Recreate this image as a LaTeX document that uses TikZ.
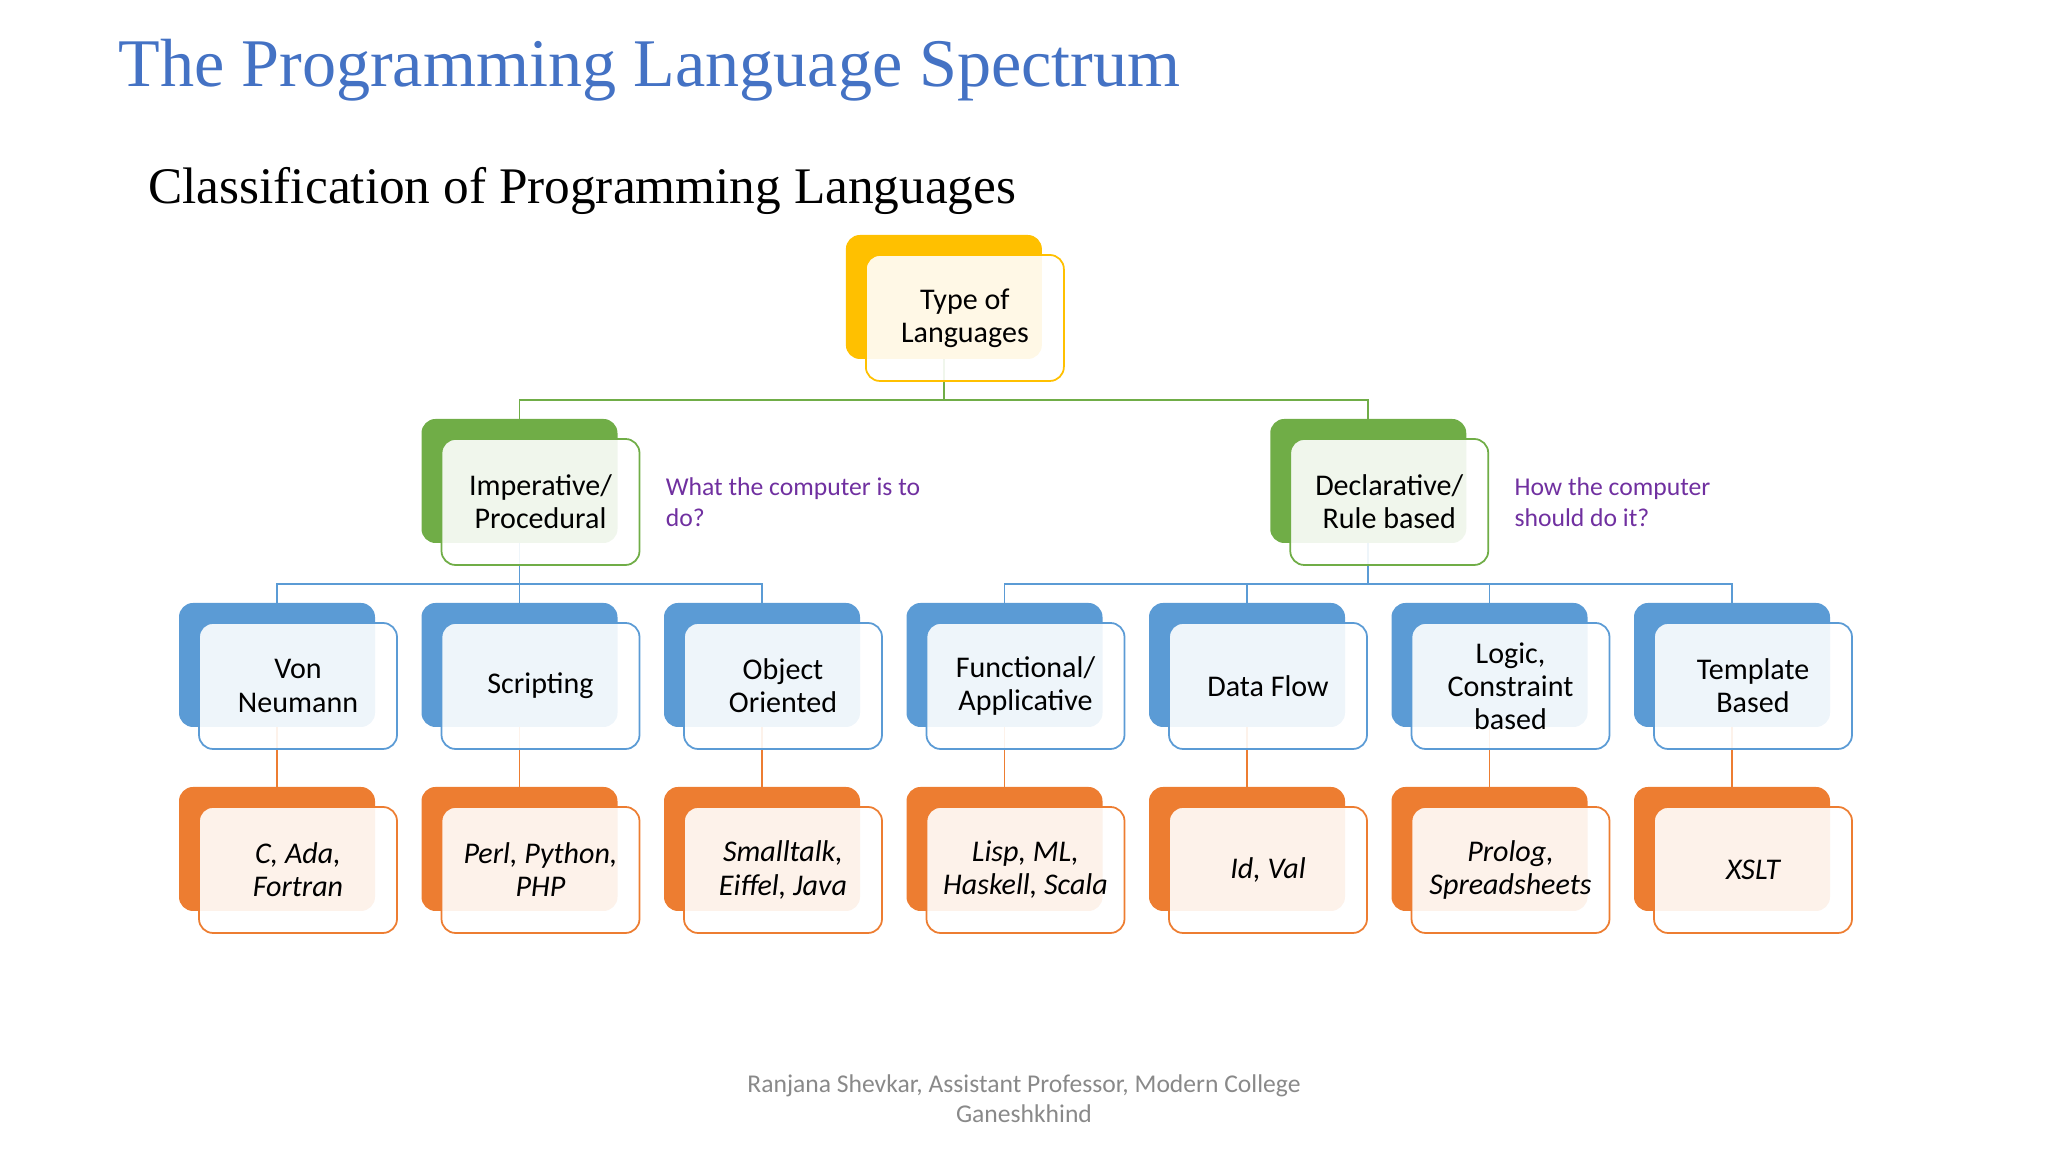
\documentclass[tikz,border=0pt]{standalone}
\usepackage{fontspec}
\setmainfont{Carlito}
\newfontfamily\slidefont{Liberation Serif}
\usetikzlibrary{positioning, calc, backgrounds}
\definecolor{titleBlue}{HTML}{4472C4}
\definecolor{boxGold}{HTML}{FFC000}
\definecolor{boxGreen}{HTML}{70AD47}
\definecolor{boxBlue}{HTML}{5B9BD5}
\definecolor{boxOrange}{HTML}{ED7D31}
\definecolor{notePurple}{HTML}{7030A0}
\definecolor{footGray}{HTML}{898989}
\tikzset{
  backbox/.style={rounded corners=4pt, minimum width=1.96cm, minimum height=1.24cm, inner sep=0pt, outer sep=0pt},
  frontbox/.style={draw, line width=.5pt, fill=white, fill opacity=.9, text opacity=1, rounded corners=4pt,
    minimum width=1.98cm, minimum height=1.26cm, inner sep=0pt, align=center, font=\fontsize{8.55}{9.4}\selectfont},
  kindbox/.style={frontbox, draw=boxBlue},
  langbox/.style={frontbox, draw=boxOrange, font=\fontsize{8.55}{9.4}\selectfont\itshape},
  notetext/.style={notePurple, align=left, font=\fontsize{7.3}{8.9}\selectfont},
  link/.style={line width=.5pt},
}
\begin{document}
\begin{tikzpicture}[node distance=0.6cm and 0.465cm]
  \useasboundingbox (0,0) rectangle (20.48,11.52);
  \node[anchor=base west, titleBlue, font=\slidefont\fontsize{19.4}{23}\selectfont] (title) at (1.06,10.65)
    {The Programming Language Spectrum};
  \node[anchor=base west, font=\slidefont\fontsize{14.6}{17}\selectfont] (subtitle) at (1.36,9.48)
    {Classification of Programming Languages};
  % kinds and languages
  \node[backbox, fill=boxBlue] (vnB) at (2.77,4.87) {};
  \node[backbox, fill=boxBlue, right=of vnB] (scB) {};
  \node[backbox, fill=boxBlue, right=of scB] (ooB) {};
  \node[backbox, fill=boxBlue, right=of ooB] (funB) {};
  \node[backbox, fill=boxBlue, right=of funB] (dfB) {};
  \node[backbox, fill=boxBlue, right=of dfB] (lcB) {};
  \node[backbox, fill=boxBlue, right=of lcB] (tmplB) {};
  \node[backbox, fill=boxOrange, below=of vnB] (cB) {};
  \node[backbox, fill=boxOrange, below=of scB] (perlB) {};
  \node[backbox, fill=boxOrange, below=of ooB] (stB) {};
  \node[backbox, fill=boxOrange, below=of funB] (lispB) {};
  \node[backbox, fill=boxOrange, below=of dfB] (idB) {};
  \node[backbox, fill=boxOrange, below=of lcB] (prB) {};
  \node[backbox, fill=boxOrange, below=of tmplB] (xsB) {};
  \node[kindbox] (vn) at ([shift={(.21,-.21)}]vnB) {Von\\Neumann};
  \node[kindbox] (sc) at ([shift={(.21,-.21)}]scB) {Scripting};
  \node[kindbox] (oo) at ([shift={(.21,-.21)}]ooB) {Object\\Oriented};
  \node[kindbox] (fun) at ([shift={(.21,-.21)}]funB) {Functional/\\Applicative};
  \node[kindbox] (df) at ([shift={(.21,-.21)}]dfB) {Data Flow};
  \node[kindbox] (lc) at ([shift={(.21,-.21)}]lcB) {Logic,\\Constraint\\based};
  \node[kindbox] (tmpl) at ([shift={(.21,-.21)}]tmplB) {Template\\Based};
  \node[langbox] (c) at ([shift={(.21,-.21)}]cB) {C, Ada,\\Fortran};
  \node[langbox] (perl) at ([shift={(.21,-.21)}]perlB) {Perl, Python,\\PHP};
  \node[langbox] (st) at ([shift={(.21,-.21)}]stB) {Smalltalk,\\Eiffel, Java};
  \node[langbox] (lisp) at ([shift={(.21,-.21)}]lispB) {Lisp, ML,\\Haskell, Scala};
  \node[langbox] (id) at ([shift={(.21,-.21)}]idB) {Id, Val};
  \node[langbox] (pr) at ([shift={(.21,-.21)}]prB) {Prolog,\\Spreadsheets};
  \node[langbox] (xs) at ([shift={(.21,-.21)}]xsB) {XSLT};
  % paradigms and root
  \node[backbox, fill=boxGreen, above=of scB] (impB) {};
  \node[backbox, fill=boxGreen] (declB) at ($(funB)!.5!(tmplB)+(0,1.84)$) {};
  \node[backbox, fill=boxGold] (topB) at ($(impB)!.5!(declB)+(0,1.84)$) {};
  \node[frontbox, draw=boxGreen] (imp) at ([shift={(.21,-.21)}]impB) {Imperative/\\Procedural};
  \node[frontbox, draw=boxGreen] (decl) at ([shift={(.21,-.21)}]declB) {Declarative/\\Rule based};
  \node[frontbox, draw=boxGold] (top) at ([shift={(.21,-.21)}]topB) {Type of\\Languages};
  \node[notetext, right=0.13cm of imp] (impNote) {What the computer is to\\do?};
  \node[notetext, right=0.13cm of decl] (declNote) {How the computer\\should do it?};
  \node[footGray, align=center, font=\fontsize{7.28}{8.6}\selectfont] (foot) at (10.24,0.53)
    {Ranjana Shevkar, Assistant Professor, Modern College\\Ganeshkhind};
  % tree lines
  \begin{scope}[on background layer]
    \coordinate (gJoin) at ($(topB.south |- top.south)+(0,-.185)$);
    \coordinate (bJoin1) at ($(impB.south |- imp.south)+(0,-.185)$);
    \coordinate (bJoin2) at ($(declB.south |- decl.south)+(0,-.185)$);
    \draw[link, boxGreen] (topB.south) -- (gJoin);
    \draw[link, boxGreen] (impB.north) |- (gJoin) -| (declB.north);
    \draw[link, boxBlue] (impB.south) -- (scB.north);
    \draw[link, boxBlue] (vnB.north) |- (bJoin1) -| (ooB.north);
    \draw[link, boxBlue] (declB.south) -- (bJoin2);
    \draw[link, boxBlue] (funB.north) |- (bJoin2) -| (tmplB.north);
    \draw[link, boxBlue] (dfB.north) |- (bJoin2) -| (lcB.north);
    \draw[link, boxOrange] (vnB.south) -- (cB.north);
    \draw[link, boxOrange] (scB.south) -- (perlB.north);
    \draw[link, boxOrange] (ooB.south) -- (stB.north);
    \draw[link, boxOrange] (funB.south) -- (lispB.north);
    \draw[link, boxOrange] (dfB.south) -- (idB.north);
    \draw[link, boxOrange] (lcB.south) -- (prB.north);
    \draw[link, boxOrange] (tmplB.south) -- (xsB.north);
  \end{scope}
\end{tikzpicture}
\end{document}
